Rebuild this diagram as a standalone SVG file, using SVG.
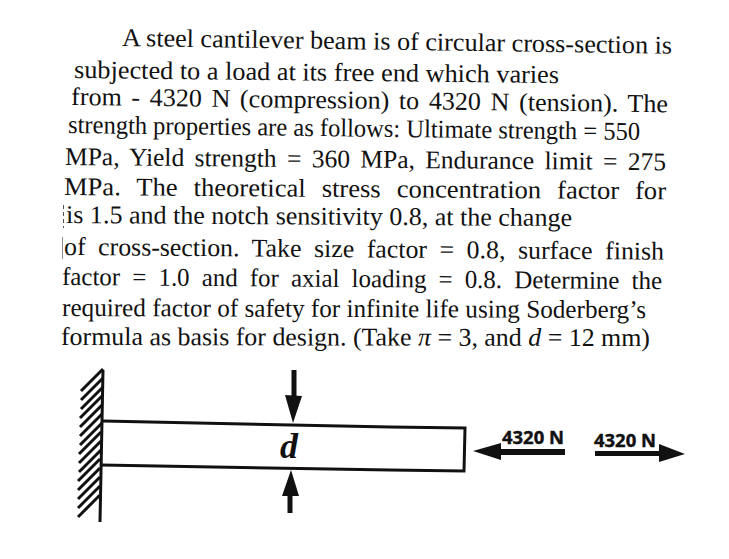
<svg xmlns="http://www.w3.org/2000/svg" width="729" height="559" viewBox="0 0 729 559">
<style>
.t{font-family:"Liberation Serif","Times New Roman",serif;font-size:25.5px;fill:#111}
.l{font-family:"Open Sans","Liberation Sans",sans-serif;font-size:17px;font-weight:700;fill:#111;stroke:#111;stroke-width:.4}
.b{stroke:#111;stroke-width:3;fill:none}
.h{stroke:#111;stroke-width:3;fill:none}
.s{stroke:#111;stroke-width:5;fill:none}
.a{fill:#111}
</style>
<defs>
<path id="ht" d="M0 0L22 -22"/>
</defs>
<rect width="729" height="559" fill="#fff"/>
<g id="problem-text">
<text class="t" transform="translate(122 46) rotate(0.8)" textLength="550" lengthAdjust="spacingAndGlyphs">A steel cantilever beam is of circular cross-section is</text>
<text class="t" transform="translate(74 78) rotate(0.6)" textLength="485" lengthAdjust="spacingAndGlyphs">subjected to a load at its free end which varies</text>
<text class="t" word-spacing="3" transform="translate(71 105) rotate(0.7)" textLength="597" lengthAdjust="spacingAndGlyphs">from - 4320 N (compression) to 4320 N (tension). The</text>
<text class="t" transform="translate(68 133) rotate(0.7)" textLength="572" lengthAdjust="spacingAndGlyphs">strength properties are as follows: Ultimate strength = 550</text>
<text class="t" word-spacing="4" transform="translate(65 165) rotate(0.5)" textLength="601" lengthAdjust="spacingAndGlyphs">MPa, Yield strength = 360 MPa, Endurance limit = 275</text>
<text class="t" word-spacing="9" transform="translate(64 195) rotate(0.4)" textLength="602" lengthAdjust="spacingAndGlyphs">MPa. The theoretical stress concentration factor for</text>
<text class="t" transform="translate(66 223) rotate(0.35)" textLength="506" lengthAdjust="spacingAndGlyphs">is 1.5 and the notch sensitivity 0.8, at the change</text>
<text class="t" word-spacing="6" transform="translate(64 255) rotate(0.45)" textLength="600" lengthAdjust="spacingAndGlyphs">of cross-section. Take size factor = 0.8, surface finish</text>
<text class="t" word-spacing="6" transform="translate(62 285) rotate(0.4)" textLength="600" lengthAdjust="spacingAndGlyphs">factor = 1.0 and for axial loading = 0.8. Determine the</text>
<text class="t" transform="translate(62 316) rotate(0.2)" textLength="584" lengthAdjust="spacingAndGlyphs">required factor of safety for infinite life using Soderberg’s</text>
<text class="t" transform="translate(61 345) rotate(0.1)" textLength="589" lengthAdjust="spacingAndGlyphs">formula as basis for design. (Take <tspan font-style="italic">π</tspan> = 3, and <tspan font-style="italic">d</tspan> = 12 mm)</text>
<path d="M63.500 205V228" stroke="#555" stroke-width="1" stroke-dasharray="4 3" fill="none"/>
<path d="M62.500 237V259" stroke="#888" stroke-width="1" fill="none"/>
</g>
<g id="wall">
<path class="h" d="M103 370L100 522"/>
<g>
<use class="h" href="#ht" x="81" y="391"/><use class="h" href="#ht" x="81" y="400"/><use class="h" href="#ht" x="81" y="409"/><use class="h" href="#ht" x="80" y="418"/><use class="h" href="#ht" x="80" y="427"/><use class="h" href="#ht" x="80" y="436"/><use class="h" href="#ht" x="80" y="445"/><use class="h" href="#ht" x="79" y="454"/><use class="h" href="#ht" x="79" y="463"/><use class="h" href="#ht" x="79" y="472"/><use class="h" href="#ht" x="78" y="481"/><use class="h" href="#ht" x="78" y="490"/><use class="h" href="#ht" x="78" y="499"/><use class="h" href="#ht" x="78" y="508"/><use class="h" href="#ht" x="78" y="517"/>
</g>
</g>
<g id="beam">
<path class="b" d="M103 421L390 427L465 428L464 471L390 470L101 465"/>
</g>
<g id="connectors">
<path class="s" d="M294 370V400"/>
<path class="a" d="M285 395L302 396L293 423Z"/>
<path class="s" d="M290 490V513"/>
<path class="a" d="M282 496L299 496L291 470Z"/>
<path class="a" d="M473 451L501 443V449H565V455H501V460Z"/>
<path class="a" d="M595 451H659V444L685 454L659 462V456H595Z"/>
</g>
<g id="labels">
<text font-family="Liberation Serif,serif" font-size="36" font-weight="700" font-style="italic" fill="#111" x="280" y="458">d</text>
<text class="l" x="502" y="444" textLength="62" lengthAdjust="spacingAndGlyphs">4320 N</text>
<text class="l" x="594" y="447" textLength="62" lengthAdjust="spacingAndGlyphs">4320 N</text>
</g>
</svg>
